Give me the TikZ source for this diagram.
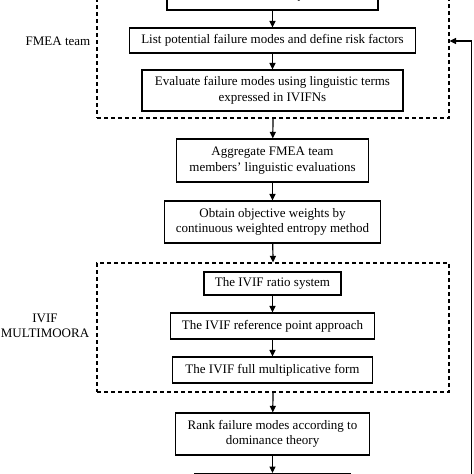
\documentclass[tikz,border=0pt]{standalone}
\usepackage{fontspec}
\setmainfont{Liberation Serif}
\usetikzlibrary{arrows.meta}

\begin{document}
\begin{tikzpicture}
            [x=1pt,y=-1pt,>={Triangle[length=6.5pt,width=6pt]},
             every node/.style={font=\fontsize{13}{15.5}\selectfont,align=center,inner sep=0},
             stepbox/.style={draw,shape=rectangle,line width=1.2pt},
             groupbox/.style={draw,shape=rectangle,line width=1.1pt,dash pattern=on 4pt off 3pt},
             flow/.style={->,line width=1.2pt,black}]

            \clip (0,0) rectangle (474,474);

            \node[groupbox,minimum width=352pt,minimum height=163pt] (fmea) at (273,36.5) {};
            \node[groupbox,minimum width=352pt,minimum height=129pt] (moora) at (273,327.5) {};

            \node[stepbox,minimum width=211pt,minimum height=36pt] (scope) at (272.5,-8) {\mbox{}\\and determine analysis level};
            \node[stepbox,minimum width=286pt,minimum height=25pt] (list) at (272.5,40.5) {List potential failure modes and define risk factors};
            \node[stepbox,minimum width=261pt,minimum height=41pt] (eval) at (272.5,90.5) {Evaluate failure modes using linguistic terms\\expressed in IVIFNs};
            \node[stepbox,minimum width=192pt,minimum height=43pt] (aggr) at (272.5,160.5) {Aggregate FMEA team\\members' linguistic evaluations};
            \node[stepbox,minimum width=216pt,minimum height=42pt] (weight) at (272.5,222) {Obtain objective weights by\\continuous weighted entropy method};
            \node[stepbox,minimum width=137pt,minimum height=23pt] (ratio) at (272.5,283.5) {The IVIF ratio system};
            \node[stepbox,minimum width=204pt,minimum height=26pt] (refp) at (272.5,326) {The IVIF reference point approach};
            \node[stepbox,minimum width=200pt,minimum height=26pt] (mult) at (272.5,370) {The IVIF full multiplicative form};
            \node[stepbox,minimum width=194pt,minimum height=42pt] (rank) at (272.5,434) {Rank failure modes according to\\dominance theory};
            \node[stepbox,minimum width=155pt,minimum height=42pt,anchor=north] (result) at (272.5,473) {};

            \node (fmeatag) at (58,41) {FMEA team};
            \node (mooratag) at (45,326) {IVIF\\MULTIMOORA};

            \coordinate (fb) at (471.5,490);
            \coordinate (back) at (471.5,41);

            \draw[flow] (scope) -- (list);
            \draw[flow] (list) -- (eval);
            \draw[flow] (fmea.south) -- (aggr);
            \draw[flow] (aggr) -- (weight);
            \draw[flow] (weight) -- (moora.north);
            \draw[flow] (ratio) -- (refp);
            \draw[flow] (refp) -- (mult);
            \draw[flow] (moora.south) -- (rank);
            \draw[flow] (rank) -- (result);
            \draw[flow] (fb) -- (back) -- (fmea.east |- back);
          \end{tikzpicture}
\end{document}
